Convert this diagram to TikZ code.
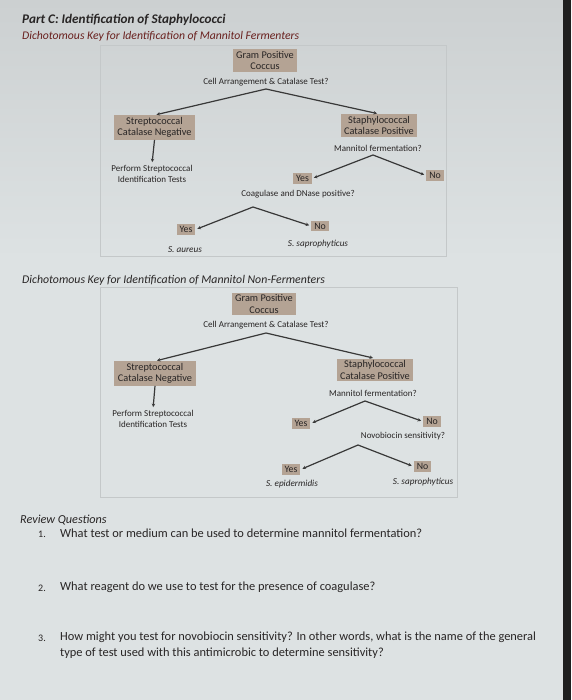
\documentclass[tikz,border=0pt]{standalone}
\usepackage{fontspec}
\setmainfont{Carlito}
\usetikzlibrary{arrows.meta}
\definecolor{bgc}{RGB}{221,226,227}
\definecolor{bgtop}{RGB}{204,208,209}
\definecolor{boxc}{RGB}{180,163,148}
\definecolor{ink}{RGB}{40,37,37}
\definecolor{redink}{RGB}{105,32,30}
\definecolor{framec}{RGB}{196,200,201}
\tikzset{
  tanbox/.style={fill=boxc, text=ink, align=center, inner xsep=3.5pt, inner ysep=2pt, font=\fontsize{10.3}{11.5}\selectfont},
  smallbox/.style={fill=boxc, text=ink, align=center, inner xsep=3pt, inner ysep=2pt, font=\fontsize{9.8}{10.5}\selectfont},
  qtext/.style={text=ink, align=center, inner sep=1pt, font=\fontsize{9}{11}\selectfont},
  spec/.style={text=ink, inner sep=1pt, font=\fontsize{9.2}{11}\selectfont\itshape},
  arr/.style={draw=black!78, line width=1.2pt, -{Stealth[open,length=3.5pt,width=3.5pt]}, shorten >=2pt},
  frm/.style={draw=framec, line width=0.8pt},
  rq/.style={text=ink, inner sep=0pt, anchor=west, font=\fontsize{12.4}{16}\selectfont},
  numq/.style={text=ink, inner sep=0pt, anchor=west, font=\fontsize{10}{12}\selectfont},
}
\begin{document}
\begin{tikzpicture}[x=1pt,y=-1pt]
\useasboundingbox (0,0) rectangle (571,700);
\shade[top color=bgtop, bottom color=bgc] (0,0) rectangle (571,260);
\fill[bgc] (0,259.5) rectangle (571,700);
\fill[black!88] (563,0) rectangle (571,700);

% headings
\node[anchor=west, inner sep=0pt, text=ink, font=\fontsize{13.2}{15}\selectfont\bfseries\itshape] (title) at (22,20) {Part C: Identification of Staphylococci};
\node[anchor=west, inner sep=0pt, text=redink, font=\fontsize{11.7}{13}\selectfont\itshape] (sub1) at (22,36) {Dichotomous Key for Identification of Mannitol Fermenters};

% ---- Key 1 ----
\draw[frm] (100,45) rectangle (446,256);
\node[tanbox] (gpc1) at (265,60.5) {Gram Positive\\Coccus};
\node[qtext] (q1) at (266,82) {Cell Arrangement \& Catalase Test?};
\coordinate (a1) at (266,89);
\node[tanbox] (strep1) at (154.5,127.5) {Streptococcal\\Catalase Negative};
\node[tanbox] (staph1) at (379,125.5) {Staphylococcal\\Catalase Positive};
\draw[arr] (a1) -- (strep1.north);
\draw[arr] (a1) -- (staph1.north);
\node[qtext] (perf1) at (152,174) {Perform Streptococcal\\Identification Tests};
\draw[arr] (strep1.south) -- (perf1.north);
\node[qtext] (q2) at (378,148) {Mannitol fermentation?};
\coordinate (a2) at (373,155);
\node[smallbox] (yes1) at (302.5,178.5) {Yes};
\node[smallbox] (no1) at (435,175.5) {No};
\draw[arr] (a2) -- (yes1.east);
\draw[arr] (a2) -- (no1.west);
\node[qtext] (q3) at (298,194) {Coagulase and DNase positive?};
\coordinate (a3) at (253,207);
\node[smallbox] (yes2) at (186,229.5) {Yes};
\node[smallbox] (no2) at (320,226) {No};
\draw[arr] (a3) -- (yes2.east);
\draw[arr] (a3) -- (no2.west);
\node[spec] (aur) at (185,250) {S. aureus};
\node[spec] (sap1) at (318,244) {S. saprophyticus};

% ---- Key 2 ----
\node[anchor=west, inner sep=0pt, text=ink, font=\fontsize{11.8}{13}\selectfont\itshape] (sub2) at (22,280) {Dichotomous Key for Identification of Mannitol Non-Fermenters};
\draw[frm] (100,287) rectangle (457,497);
\node[tanbox] (gpc2) at (264,304) {Gram Positive\\Coccus};
\node[qtext] (q4) at (266,325) {Cell Arrangement \& Catalase Test?};
\coordinate (a4) at (266,333);
\node[tanbox] (strep2) at (155,373.5) {Streptococcal\\Catalase Negative};
\node[tanbox] (staph2) at (375,370) {Staphylococcal\\Catalase Positive};
\draw[arr] (a4) -- (strep2.north);
\draw[arr] (a4) -- (staph2.north);
\node[qtext] (perf2) at (153,419) {Perform Streptococcal\\Identification Tests};
\draw[arr] (strep2.south) -- (perf2.north);
\node[qtext] (q5) at (373,393) {Mannitol fermentation?};
\coordinate (a5) at (365,401);
\node[smallbox] (yes3) at (301,423.5) {Yes};
\node[smallbox] (no3) at (432,421.5) {No};
\draw[arr] (a5) -- (yes3.east);
\draw[arr] (a5) -- (no3.west);
\node[qtext] (q6) at (403,436) {Novobiocin sensitivity?};
\coordinate (a6) at (358,445);
\node[smallbox] (yes4) at (291,469.5) {Yes};
\node[smallbox] (no4) at (422.5,466.5) {No};
\draw[arr] (a6) -- (yes4.east);
\draw[arr] (a6) -- (no4.west);
\node[spec] (epi) at (292,484) {S. epidermidis};
\node[spec] (sap2) at (423,482) {S. saprophyticus};

% ---- Review questions ----
\node[anchor=west, inner sep=0pt, text=ink, font=\fontsize{12.2}{14}\selectfont\itshape] (rev) at (20,520) {Review Questions};
\node[numq] (n1) at (38,534) {1.};
\node[rq] (t1) at (60,533) {What test or medium can be used to determine mannitol fermentation?};
\node[numq] (n2) at (38,588) {2.};
\node[rq] (t2) at (60,587) {What reagent do we use to test for the presence of coagulase?};
\node[numq] (n3) at (38,638) {3.};
\node[rq, align=left] (t3) at (60,645) {How might you test for novobiocin sensitivity? In other words, what is the name of the general\\type of test used with this antimicrobic to determine sensitivity?};
\end{tikzpicture}
\end{document}
